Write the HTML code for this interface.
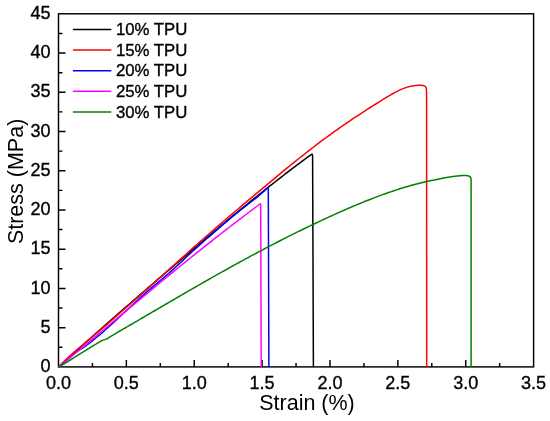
<!DOCTYPE html>
<html><head><meta charset="utf-8"><title>Stress-strain curves</title>
<style>html,body{margin:0;padding:0;background:#fff;}svg{display:block;}text{font-family:"Liberation Sans",Arial,Helvetica,sans-serif;fill:#000;stroke:#000;stroke-width:0.35px;}text.t{stroke-width:0.0px;}</style>
</head><body>
<svg width="550" height="421" viewBox="0 0 550 421">
<rect x="0" y="0" width="550" height="421" fill="#fff"/>
<path d="M92.44,366.90 V362.90 M126.37,366.90 V359.90 M160.31,366.90 V362.90 M194.24,366.90 V359.90 M228.18,366.90 V362.90 M262.11,366.90 V359.90 M296.05,366.90 V362.90 M329.99,366.90 V359.90 M363.92,366.90 V362.90 M397.86,366.90 V359.90 M431.79,366.90 V362.90 M465.73,366.90 V359.90 M499.66,366.90 V362.90 M58.50,347.28 H62.50 M58.50,327.67 H65.50 M58.50,308.05 H62.50 M58.50,288.43 H65.50 M58.50,268.82 H62.50 M58.50,249.20 H65.50 M58.50,229.58 H62.50 M58.50,209.97 H65.50 M58.50,190.35 H62.50 M58.50,170.73 H65.50 M58.50,151.12 H62.50 M58.50,131.50 H65.50 M58.50,111.88 H62.50 M58.50,92.27 H65.50 M58.50,72.65 H62.50 M58.50,53.03 H65.50 M58.50,33.42 H62.50" stroke="#000" stroke-width="1.45" fill="none"/>
<rect x="58.5" y="13.8" width="475.10" height="353.10" fill="none" stroke="#000" stroke-width="1.45"/>
<path d="M58.60,367.00 L61.60,364.25 L64.60,361.51 L67.60,358.78 L70.60,356.05 L73.60,353.34 L76.60,350.63 L79.60,347.93 L82.60,345.23 L85.60,342.55 L88.60,339.87 L91.60,337.20 L94.60,334.53 L97.60,331.87 L100.60,329.22 L103.60,326.57 L106.60,323.93 L109.60,321.29 L112.60,318.66 L115.60,316.03 L118.60,313.41 L121.60,310.80 L124.60,308.18 L127.60,305.58 L130.60,302.97 L133.60,300.37 L136.60,297.77 L139.60,295.18 L142.60,292.59 L145.60,290.00 L148.60,287.42 L151.60,284.84 L154.60,282.26 L157.60,279.68 L160.60,277.11 L163.60,274.53 L166.60,271.96 L169.60,269.39 L172.60,266.82 L175.60,264.25 L178.60,261.68 L181.60,259.12 L184.60,256.56 L187.60,254.00 L190.60,251.44 L193.60,248.88 L196.60,246.33 L199.60,243.79 L202.60,241.24 L205.60,238.70 L208.60,236.17 L211.60,233.64 L214.60,231.12 L217.60,228.60 L220.60,226.09 L223.60,223.58 L226.60,221.08 L229.60,218.59 L232.60,216.10 L235.60,213.63 L238.60,211.16 L241.60,208.70 L244.60,206.24 L247.60,203.80 L250.60,201.36 L253.60,198.94 L256.60,196.52 L259.60,194.11 L262.60,191.72 L265.60,189.33 L268.60,186.95 L271.60,184.59 L274.60,182.24 L277.60,179.90 L280.60,177.57 L283.60,175.25 L286.60,172.95 L289.60,170.66 L292.60,168.38 L295.60,166.12 L298.60,163.87 L301.60,161.64 L304.60,159.42 L307.60,157.21 L310.60,155.02 L312.00,154.01 L312.60,155.50 L313.40,367.00" fill="none" stroke="#000000" stroke-width="1.5" stroke-linejoin="round" stroke-linecap="butt"/>
<path d="M58.60,367.00 L61.60,363.87 L64.60,360.88 L67.60,358.02 L70.60,355.27 L73.60,352.59 L76.60,350.00 L79.60,347.46 L82.60,344.96 L85.60,342.48 L88.60,340.01 L91.60,337.49 L94.60,334.92 L97.60,332.34 L100.60,329.76 L103.60,327.17 L106.60,324.57 L109.60,321.97 L112.60,319.36 L115.60,316.75 L118.60,314.14 L121.60,311.52 L124.60,308.89 L127.60,306.26 L130.60,303.62 L133.60,300.98 L136.60,298.34 L139.60,295.69 L142.60,293.03 L145.60,290.37 L148.60,287.70 L151.60,285.03 L154.60,282.36 L157.60,279.68 L160.60,276.99 L163.60,274.30 L166.60,271.61 L169.60,268.91 L172.60,266.21 L175.60,263.52 L178.60,260.83 L181.60,258.14 L184.60,255.45 L187.60,252.77 L190.60,250.10 L193.60,247.43 L196.60,244.78 L199.60,242.13 L202.60,239.49 L205.60,236.85 L208.60,234.23 L211.60,231.62 L214.60,229.01 L217.60,226.42 L220.60,223.83 L223.60,221.25 L226.60,218.68 L229.60,216.12 L232.60,213.57 L235.60,211.02 L238.60,208.48 L241.60,205.94 L244.60,203.41 L247.60,200.88 L250.60,198.36 L253.60,195.84 L256.60,193.33 L259.60,190.82 L262.60,188.31 L265.60,185.80 L268.60,183.30 L271.60,180.80 L274.60,178.31 L277.60,175.83 L280.60,173.35 L283.60,170.89 L286.60,168.43 L289.60,165.99 L292.60,163.56 L295.60,161.14 L298.60,158.74 L301.60,156.35 L304.60,153.99 L307.60,151.64 L310.60,149.31 L313.60,147.00 L316.60,144.71 L319.60,142.44 L322.60,140.20 L325.60,137.98 L328.60,135.78 L331.60,133.61 L334.60,131.46 L337.60,129.33 L340.60,127.22 L343.60,125.13 L346.60,123.06 L349.60,121.02 L352.60,118.99 L355.60,116.99 L358.60,115.00 L361.60,113.04 L364.60,111.09 L367.60,109.16 L370.60,107.25 L373.60,105.36 L376.60,103.49 L379.60,101.63 L382.60,99.73 L385.60,97.84 L388.60,96.02 L391.60,94.28 L394.60,92.63 L397.60,91.09 L400.60,89.68 L403.60,88.41 L406.60,87.36 L409.60,86.52 L412.60,85.89 L415.60,85.46 L418.60,85.26 L420.00,85.25 L422.00,85.35 L424.00,85.85 L425.50,86.70 L426.30,88.20 L426.60,92.00 L426.70,367.00" fill="none" stroke="#ff0000" stroke-width="1.5" stroke-linejoin="round" stroke-linecap="butt"/>
<path d="M58.60,367.00 L63.00,363.30 L68.00,359.40 L73.90,354.00 L79.90,349.60 L84.00,347.10 L88.80,343.60 L93.50,339.90 L97.00,337.00 L100.60,334.05 L102.60,332.32 L104.60,330.56 L106.60,328.79 L108.60,326.99 L110.60,325.18 L112.60,323.35 L114.60,321.51 L116.60,319.66 L118.60,317.81 L120.60,315.94 L122.60,314.07 L124.60,312.20 L126.60,310.33 L128.60,308.46 L130.60,306.60 L132.60,304.74 L134.60,302.89 L136.60,301.05 L138.60,299.22 L140.60,297.40 L142.60,295.61 L144.60,293.83 L146.60,292.07 L148.60,290.33 L150.60,288.62 L152.60,286.93 L154.60,285.26 L156.60,283.59 L158.60,281.93 L160.60,280.27 L162.60,278.59 L164.60,276.90 L166.60,275.19 L168.60,273.45 L170.60,271.67 L172.60,269.87 L174.60,268.04 L176.60,266.19 L178.60,264.33 L180.60,262.45 L182.60,260.58 L184.60,258.70 L186.60,256.82 L188.60,254.96 L190.60,253.11 L192.60,251.28 L194.60,249.46 L196.60,247.65 L198.60,245.86 L200.60,244.08 L202.60,242.32 L204.60,240.56 L206.60,238.81 L208.60,237.07 L210.60,235.33 L212.60,233.60 L214.60,231.87 L216.60,230.15 L218.60,228.43 L220.60,226.71 L222.60,224.99 L224.60,223.28 L226.60,221.58 L228.60,219.88 L230.60,218.20 L232.60,216.53 L234.60,214.87 L236.60,213.22 L238.60,211.59 L240.60,209.98 L242.60,208.40 L244.60,206.83 L246.60,205.29 L248.60,203.76 L250.60,202.25 L252.60,200.75 L254.60,199.24 L256.60,197.58 L258.60,195.88 L260.60,194.15 L262.60,192.40 L264.60,190.62 L266.60,188.80 L267.90,187.60 L268.30,189.00 L268.90,367.00" fill="none" stroke="#0000ff" stroke-width="1.5" stroke-linejoin="round" stroke-linecap="butt"/>
<path d="M58.60,367.00 L61.60,364.54 L64.60,362.07 L67.60,359.62 L70.60,357.16 L73.60,354.69 L76.60,352.23 L79.60,349.78 L82.60,347.31 L85.60,344.85 L88.60,342.39 L91.60,339.89 L94.60,337.36 L97.60,334.83 L100.60,332.29 L103.60,329.76 L106.60,327.24 L109.60,324.71 L112.60,322.19 L115.60,319.66 L118.60,317.14 L121.60,314.63 L124.60,312.11 L127.60,309.60 L130.60,307.09 L133.60,304.58 L136.60,302.08 L139.60,299.58 L142.60,297.09 L145.60,294.59 L148.60,292.11 L151.60,289.62 L154.60,287.14 L157.60,284.67 L160.60,282.20 L163.60,279.73 L166.60,277.27 L169.60,274.81 L172.60,272.36 L175.60,269.92 L178.60,267.48 L181.60,265.04 L184.60,262.61 L187.60,260.19 L190.60,257.77 L193.60,255.36 L196.60,252.96 L199.60,250.56 L202.60,248.17 L205.60,245.79 L208.60,243.42 L211.60,241.05 L214.60,238.69 L217.60,236.33 L220.60,233.99 L223.60,231.65 L226.60,229.32 L229.60,227.00 L232.60,224.68 L235.60,222.38 L238.60,220.08 L241.60,217.80 L244.60,215.52 L247.60,213.25 L250.60,210.99 L253.60,208.74 L256.60,206.50 L259.60,204.27 L260.40,203.68 L260.70,205.00 L261.20,367.00" fill="none" stroke="#ff00ff" stroke-width="1.5" stroke-linejoin="round" stroke-linecap="butt"/>
<path d="M58.60,367.00 L69.80,360.40 L79.90,353.80 L85.80,350.30 L91.80,346.60 L95.90,344.20 L100.50,341.30 L102.50,340.40 L104.90,339.60 L107.30,338.70 L110.00,336.90 L113.80,334.70 L116.00,333.40 L118.60,331.74 L120.60,330.59 L122.60,329.43 L124.60,328.26 L126.60,327.10 L128.60,325.94 L130.60,324.77 L132.60,323.61 L134.60,322.44 L136.60,321.28 L138.60,320.11 L140.60,318.94 L142.60,317.77 L144.60,316.60 L146.60,315.44 L148.60,314.27 L150.60,313.10 L152.60,311.93 L154.60,310.76 L156.60,309.59 L158.60,308.42 L160.60,307.25 L162.60,306.08 L164.60,304.91 L166.60,303.74 L168.60,302.58 L170.60,301.41 L172.60,300.25 L174.60,299.08 L176.60,297.92 L178.60,296.75 L180.60,295.59 L182.60,294.43 L184.60,293.27 L186.60,292.11 L188.60,290.96 L190.60,289.80 L192.60,288.65 L194.60,287.49 L196.60,286.34 L198.60,285.20 L200.60,284.05 L202.60,282.90 L204.60,281.76 L206.60,280.62 L208.60,279.48 L210.60,278.35 L212.60,277.21 L214.60,276.08 L216.60,274.95 L218.60,273.83 L220.60,272.70 L222.60,271.58 L224.60,270.47 L226.60,269.35 L228.60,268.24 L230.60,267.13 L232.60,266.02 L234.60,264.92 L236.60,263.82 L238.60,262.72 L240.60,261.63 L242.60,260.54 L244.60,259.45 L246.60,258.37 L248.60,257.29 L250.60,256.21 L252.60,255.13 L254.60,254.06 L256.60,253.00 L258.60,251.93 L260.60,250.87 L262.60,249.81 L264.60,248.76 L266.60,247.71 L268.60,246.67 L270.60,245.62 L272.60,244.59 L274.60,243.55 L276.60,242.52 L278.60,241.49 L280.60,240.47 L282.60,239.45 L284.60,238.44 L286.60,237.42 L288.60,236.42 L290.60,235.41 L292.60,234.42 L294.60,233.42 L296.60,232.43 L298.60,231.44 L300.60,230.46 L302.60,229.48 L304.60,228.51 L306.60,227.54 L308.60,226.58 L310.60,225.62 L312.60,224.66 L314.60,223.71 L316.60,222.76 L318.60,221.82 L320.60,220.88 L322.60,219.94 L324.60,219.01 L326.60,218.09 L328.60,217.17 L330.60,216.25 L332.60,215.34 L334.60,214.43 L336.60,213.53 L338.60,212.64 L340.60,211.75 L342.60,210.86 L344.60,209.98 L346.60,209.11 L348.60,208.24 L350.60,207.38 L352.60,206.53 L354.60,205.68 L356.60,204.84 L358.60,204.01 L360.60,203.19 L362.60,202.37 L364.60,201.56 L366.60,200.76 L368.60,199.97 L370.60,199.18 L372.60,198.41 L374.60,197.64 L376.60,196.88 L378.60,196.13 L380.60,195.39 L382.60,194.66 L384.60,193.94 L386.60,193.24 L388.60,192.54 L390.60,191.85 L392.60,191.17 L394.60,190.50 L396.60,189.85 L398.60,189.20 L400.60,188.57 L402.60,187.95 L404.60,187.34 L406.60,186.74 L408.60,186.16 L410.60,185.58 L412.60,185.02 L414.60,184.48 L416.60,183.94 L418.60,183.42 L420.60,182.91 L422.60,182.42 L424.60,181.94 L426.60,181.47 L428.60,181.02 L430.00,180.72 L434.30,180.00 L439.10,178.90 L443.70,178.00 L448.20,177.20 L452.80,176.55 L457.30,176.00 L462.80,175.50 L466.40,175.50 L468.60,175.90 L470.20,176.90 L471.00,178.60 L471.10,181.00 L471.10,367.00" fill="none" stroke="#008000" stroke-width="1.5" stroke-linejoin="round" stroke-linecap="butt"/>
<text transform="translate(58.50,389.2) scale(0.95,1)" font-size="19" text-anchor="middle">0.0</text>
<text transform="translate(126.37,389.2) scale(0.95,1)" font-size="19" text-anchor="middle">0.5</text>
<text transform="translate(194.24,389.2) scale(0.95,1)" font-size="19" text-anchor="middle">1.0</text>
<text transform="translate(262.11,389.2) scale(0.95,1)" font-size="19" text-anchor="middle">1.5</text>
<text transform="translate(329.99,389.2) scale(0.95,1)" font-size="19" text-anchor="middle">2.0</text>
<text transform="translate(397.86,389.2) scale(0.95,1)" font-size="19" text-anchor="middle">2.5</text>
<text transform="translate(465.73,389.2) scale(0.95,1)" font-size="19" text-anchor="middle">3.0</text>
<text transform="translate(533.60,389.2) scale(0.95,1)" font-size="19" text-anchor="middle">3.5</text>
<text transform="translate(50.5,372.10) scale(0.95,1)" font-size="19" text-anchor="end">0</text>
<text transform="translate(50.5,332.87) scale(0.95,1)" font-size="19" text-anchor="end">5</text>
<text transform="translate(50.5,293.63) scale(0.95,1)" font-size="19" text-anchor="end">10</text>
<text transform="translate(50.5,254.40) scale(0.95,1)" font-size="19" text-anchor="end">15</text>
<text transform="translate(50.5,215.17) scale(0.95,1)" font-size="19" text-anchor="end">20</text>
<text transform="translate(50.5,175.93) scale(0.95,1)" font-size="19" text-anchor="end">25</text>
<text transform="translate(50.5,136.70) scale(0.95,1)" font-size="19" text-anchor="end">30</text>
<text transform="translate(50.5,97.47) scale(0.95,1)" font-size="19" text-anchor="end">35</text>
<text transform="translate(50.5,58.23) scale(0.95,1)" font-size="19" text-anchor="end">40</text>
<text transform="translate(50.5,19.00) scale(0.95,1)" font-size="19" text-anchor="end">45</text>
<text x="307" y="410.2" font-size="21.5" text-anchor="middle" class="t">Strain (%)</text>
<text transform="translate(22.6,181.4) rotate(-90)" x="0" y="0" font-size="21.5" text-anchor="middle" class="t">Stress (MPa)</text>
<line x1="72.9" y1="29.40" x2="111.3" y2="29.40" stroke="#000000" stroke-width="1.5"/>
<text x="115.9" y="34.90" font-size="16.8">10% TPU</text>
<line x1="72.9" y1="50.05" x2="111.3" y2="50.05" stroke="#ff0000" stroke-width="1.5"/>
<text x="115.9" y="55.55" font-size="16.8">15% TPU</text>
<line x1="72.9" y1="70.70" x2="111.3" y2="70.70" stroke="#0000ff" stroke-width="1.5"/>
<text x="115.9" y="76.20" font-size="16.8">20% TPU</text>
<line x1="72.9" y1="91.35" x2="111.3" y2="91.35" stroke="#ff00ff" stroke-width="1.5"/>
<text x="115.9" y="96.85" font-size="16.8">25% TPU</text>
<line x1="72.9" y1="112.00" x2="111.3" y2="112.00" stroke="#008000" stroke-width="1.5"/>
<text x="115.9" y="117.50" font-size="16.8">30% TPU</text>
</svg>
</body></html>
